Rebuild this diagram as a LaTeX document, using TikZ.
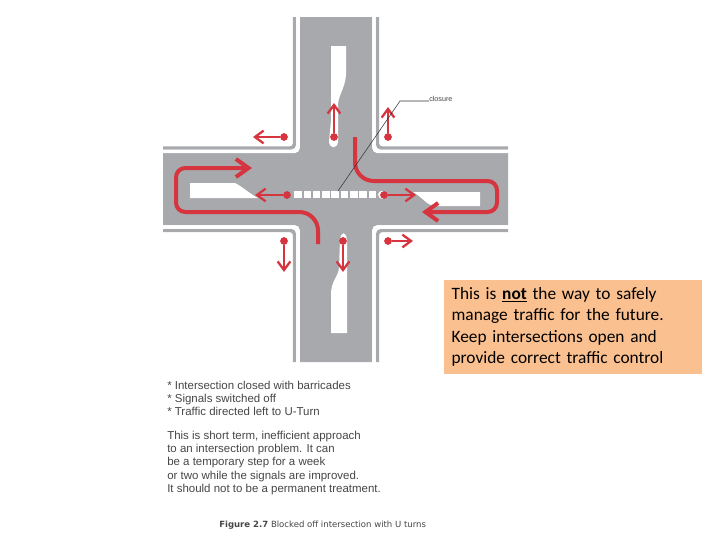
\documentclass[tikz,border=0pt]{standalone}
\usepackage{fontspec}
\setmainfont{Carlito}
\newfontfamily\notefont{Liberation Sans}
\newfontfamily\capfont{DejaVu Sans}
\usetikzlibrary{arrows.meta,positioning,calc}
\definecolor{roadgrey}{RGB}{167,169,172}
\definecolor{routered}{RGB}{214,52,62}
\definecolor{boxorange}{RGB}{251,192,143}
\definecolor{notegrey}{RGB}{70,70,70}

\begin{document}
\begin{tikzpicture}
[x=.75pt,y=-.75pt,
road/.style={fill=roadgrey},
kerbgrey/.style={draw=roadgrey,line width=2.6pt,rounded corners=3pt},
kerbwhite/.style={draw=white,line width=2.6pt,rounded corners=3pt},
island/.style={fill=white},
barricade/.style={shape=rectangle,fill=white,minimum width=5.6pt,minimum height=4.6pt,inner sep=0pt},
dotnode/.style={shape=circle,fill=routered,minimum size=5.8pt,inner sep=0pt},
movearrow/.style={draw=routered,line width=1.6pt,-{Straight Barb[length=6.5pt,width=9.5pt,line width=1.7pt]}},
uturn/.style={draw=routered,line width=3pt,-{Straight Barb[length=9.5pt,width=13.5pt,line width=3pt]}},
leader/.style={draw=black!80,line width=.4pt},
note/.style={font=\notefont\fontsize{8.6pt}{9.9pt}\selectfont,text=notegrey,align=left,anchor=north west,inner sep=0pt}]

\useasboundingbox (0,0) rectangle (728,546);

\fill[road] (300,17) -- (372,17) [rounded corners=4pt] -- (372,153) [sharp corners] -- (508,153) -- (508,225) [rounded corners=4pt] -- (372,225) [sharp corners] -- (372,362) -- (300,362) [rounded corners=4pt] -- (300,225) [sharp corners] -- (163,225) -- (163,153) [rounded corners=4pt] -- (300,153) [sharp corners] -- cycle;

\draw[kerbgrey] (163,148) -- (294.5,148) -- (294.5,17);
\draw[kerbwhite] (163,151.5) -- (298,151.5) -- (298,17);
\draw[kerbgrey] (508,148) -- (377.5,148) -- (377.5,17);
\draw[kerbwhite] (508,151.5) -- (374,151.5) -- (374,17);
\draw[kerbgrey] (163,230.5) -- (294.5,230.5) -- (294.5,362);
\draw[kerbwhite] (163,227) -- (298,227) -- (298,362);
\draw[kerbgrey] (508,230.5) -- (377.5,230.5) -- (377.5,362);
\draw[kerbwhite] (508,227) -- (374,227) -- (374,362);

\fill[island] (331,46) -- (346,46) -- (346,75) .. controls (345,88) and (339,94) .. (338,104) -- (338,142) .. controls (337,149) and (330,149) .. (329,142) -- (331,120) -- cycle;
\fill[island] (190,183) -- (235,183) .. controls (243,187) and (250,194) .. (258,198) -- (190,198) -- cycle;
\fill[island] (480,192) -- (480,206) -- (433,206) .. controls (426,204) and (422,197) .. (413,192) -- cycle;
\fill[island] (384,191) .. controls (376,190) and (376,199) .. (384,199) -- cycle;
\fill[island] (347,333) -- (331,333) -- (331,295) .. controls (331,280) and (338,278) .. (339,268) -- (340,240) .. controls (341,231) and (346,231) .. (347,240) -- cycle;

\node (b1) [barricade] at (298,194.5) {};
\node (b2) [barricade] at (307.3,194.5) {};
\node (b3) [barricade] at (316.6,194.5) {};
\node (b4) [barricade] at (325.9,194.5) {};
\node (b5) [barricade] at (335.2,194.5) {};
\node (b6) [barricade] at (344.5,194.5) {};
\node (b7) [barricade] at (353.8,194.5) {};
\node (b8) [barricade] at (363.1,194.5) {};
\node (b9) [barricade] at (372.4,194.5) {};

\node (d1) [dotnode] at (284,137) {};
\node (d2) [dotnode] at (287,195) {};
\node (d3) [dotnode] at (334,137) {};
\node (d4) [dotnode] at (388,137) {};
\node (d5) [dotnode] at (384,195) {};
\node (d6) [dotnode] at (388,241) {};
\node (d7) [dotnode] at (284,241) {};
\node (d8) [dotnode] at (343,241) {};

\coordinate (t1) at (253,137);
\coordinate (t2) at (255,195);
\coordinate (t3) at (334,103);
\coordinate (t4) at (388,107);
\coordinate (t5) at (416,195);
\coordinate (t6) at (413,241);
\coordinate (t7) at (284,272);
\coordinate (t8) at (343,272);

\draw[movearrow] (d1) -- (t1);
\draw[movearrow] (d2) -- (t2);
\draw[movearrow] (d3) -- (t3);
\draw[movearrow] (d4) -- (t4);
\draw[movearrow] (d5) -- (t5);
\draw[movearrow] (d6) -- (t6);
\draw[movearrow] (d7) -- (t7);
\draw[movearrow] (d8) -- (t8);

\coordinate (ul0) at (318,244);
\coordinate (ul1) at (318,212);
\coordinate (ul2) at (176,212);
\coordinate (ul3) at (176,168);
\coordinate (ul4) at (252,168);
\draw[uturn] (ul0) [rounded corners=14pt] -- (ul1) [rounded corners=7pt] -- (ul2) -- (ul3) [sharp corners] -- (ul4);

\coordinate (ur0) at (355,137);
\coordinate (ur1) at (355,181);
\coordinate (ur2) at (497,181);
\coordinate (ur3) at (497,212);
\coordinate (ur4) at (422,212);
\draw[uturn] (ur0) [rounded corners=14pt] -- (ur1) [rounded corners=7pt] -- (ur2) -- (ur3) [sharp corners] -- (ur4);

\node (closure) [font=\notefont\fontsize{5.4pt}{6pt}\selectfont,text=notegrey,anchor=west,inner sep=0pt] at (429,99) {closure};
\coordinate (lead0) at (338,191);
\coordinate (lead1) at (400,101);
\draw[leader] (lead0) -- (lead1) -- (closure.west |- lead1);

\node (advice) [shape=rectangle,fill=boxorange,anchor=north west,minimum width=193.5pt,minimum height=70pt,text width=182.5pt,inner xsep=5.5pt,inner ysep=3pt,align=left,font=\fontsize{13pt}{16pt}\selectfont] at (444,280) {This is \underline{\textbf{not}} the way to safely\\manage traffic for the future.\\Keep intersections open and\\provide correct traffic control};

\node (notes1) [note] at (167,381) {* Intersection closed with barricades\\* Signals switched off\\* Traffic directed left to U-Turn};
\node (notes2) [note] at (167,431) {This is short term, inefficient approach\\to an intersection problem. It can\\be a temporary step for a week\\or two while the signals are improved.\\It should not to be a permanent treatment.};
\node (caption) [font=\capfont\fontsize{6.4pt}{8pt}\selectfont,text=notegrey,anchor=west,inner sep=0pt] at (219,525) {\textbf{Figure 2.7} Blocked off intersection with U turns};

\end{tikzpicture}
\end{document}
